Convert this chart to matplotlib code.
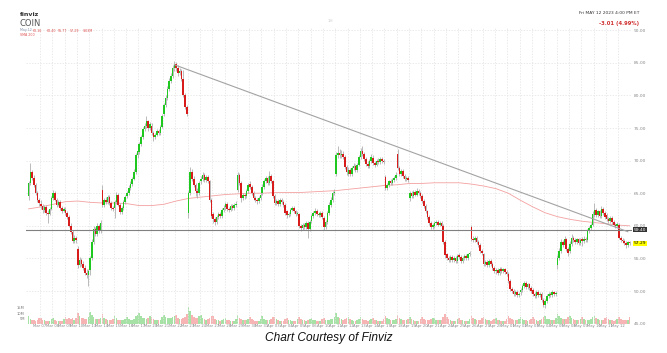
import numpy as np
import matplotlib
matplotlib.use("Agg")
import matplotlib.pyplot as plt
from matplotlib.transforms import blended_transform_factory

# COIN hourly candles, Mar 06 - May 12 2023 (7 bars per session)
dates = ["Mar 06", "Mar 07", "Mar 08", "Mar 09", "Mar 10", "Mar 13", "Mar 14", "Mar 15", "Mar 16",
         "Mar 17", "Mar 20", "Mar 21", "Mar 22", "Mar 23", "Mar 24", "Mar 27", "Mar 28", "Mar 29",
         "Mar 30", "Mar 31", "Apr 03", "Apr 04", "Apr 05", "Apr 06", "Apr 10", "Apr 11", "Apr 12",
         "Apr 13", "Apr 14", "Apr 17", "Apr 18", "Apr 19", "Apr 20", "Apr 21", "Apr 24", "Apr 25",
         "Apr 26", "Apr 27", "Apr 28", "May 01", "May 02", "May 03", "May 04", "May 05", "May 08",
         "May 09", "May 10", "May 11", "May 12"]

day_open = [64.5, 63.4, 64.3, 62.5, 56.5, 53.2, 65.5, 62.8, 64.6, 71.3, 75.3, 77.2, 84.8, 62.0,
            66.8, 61.8, 62.9, 65.5, 66.4, 65.0, 64.6, 62.2, 61.8, 60.8, 61.2, 68.0, 68.0, 70.6,
            70.4, 67.5, 71.0, 64.2, 64.6, 60.0, 55.6, 55.5, 59.8, 55.6, 53.0, 52.6, 49.8, 50.2,
            47.9, 54.0, 56.2, 57.9, 61.6, 61.6, 60.2]

closes = [
    [66.5, 68.2, 67.4, 66.2, 65.0, 64.0, 63.5],
    [63.0, 62.4, 62.9, 62.0, 61.8, 62.6, 64.2],
    [65.0, 64.0, 63.2, 63.6, 62.8, 62.3, 62.6],
    [62.0, 61.4, 60.0, 59.0, 57.6, 58.2, 57.8],
    [54.0, 54.8, 54.2, 53.6, 52.8, 52.5, 53.0],
    [55.0, 57.5, 59.5, 58.8, 60.0, 59.2, 60.5],
    [63.2, 64.0, 63.6, 64.4, 63.5, 62.8, 62.6],
    [63.6, 64.8, 63.2, 62.1, 62.8, 63.6, 64.4],
    [65.0, 65.8, 66.4, 67.2, 68.3, 70.8, 71.5],
    [72.5, 73.6, 74.8, 75.3, 76.0, 75.0, 75.6],
    [74.2, 73.6, 74.0, 74.5, 74.2, 75.2, 76.8],
    [78.5, 79.6, 81.0, 82.2, 83.0, 84.2, 84.6],
    [84.2, 83.4, 83.8, 82.5, 80.0, 78.2, 77.2],
    [65.0, 68.3, 67.2, 66.2, 65.3, 65.0, 66.5],
    [67.2, 67.8, 67.0, 67.5, 66.8, 64.0, 61.5],
    [61.0, 60.6, 61.3, 61.8, 61.5, 62.4, 62.8],
    [63.3, 62.6, 62.5, 63.0, 62.8, 63.2, 63.4],
    [67.8, 66.5, 64.2, 64.8, 64.5, 65.4, 66.2],
    [66.0, 65.0, 64.2, 64.0, 63.8, 64.3, 64.8],
    [66.0, 66.8, 67.3, 66.6, 67.6, 66.8, 64.5],
    [63.5, 63.8, 63.4, 63.9, 63.6, 63.2, 62.0],
    [61.6, 61.8, 62.5, 62.7, 62.2, 61.8, 62.0],
    [60.0, 59.6, 60.2, 59.8, 60.4, 59.5, 60.6],
    [61.5, 62.0, 62.3, 61.8, 61.6, 62.0, 61.4],
    [59.8, 60.6, 62.0, 63.2, 64.0, 65.0, 65.2],
    [70.8, 71.2, 70.8, 71.0, 70.5, 69.0, 68.2],
    [68.5, 68.0, 68.8, 69.2, 68.6, 69.4, 70.5],
    [71.5, 71.0, 70.2, 69.5, 69.2, 70.0, 70.6],
    [69.6, 69.4, 70.0, 69.8, 70.2, 70.0, 69.8],
    [65.8, 66.3, 66.8, 66.5, 67.0, 67.4, 67.8],
    [68.8, 68.0, 68.4, 67.6, 67.2, 67.4, 67.0],
    [65.0, 64.6, 65.2, 64.8, 65.4, 65.0, 64.5],
    [63.8, 63.0, 62.2, 61.4, 60.5, 59.8, 60.2],
    [60.4, 60.6, 60.2, 60.5, 60.0, 57.5, 55.5],
    [55.0, 54.8, 55.2, 54.7, 55.0, 54.6, 55.3],
    [55.2, 54.6, 55.0, 55.4, 55.0, 55.6, 55.8],
    [58.0, 57.8, 58.2, 57.5, 57.0, 56.2, 55.8],
    [54.2, 54.5, 54.0, 54.6, 54.2, 53.5, 53.0],
    [53.2, 52.8, 53.4, 53.0, 53.3, 52.9, 52.6],
    [51.5, 50.3, 50.0, 49.6, 49.8, 49.4, 49.6],
    [50.2, 50.8, 51.2, 50.6, 51.0, 50.4, 50.0],
    [49.6, 49.2, 49.8, 49.4, 49.5, 48.6, 47.8],
    [48.5, 49.2, 49.6, 49.4, 49.8, 49.5, 49.7],
    [55.0, 56.2, 57.5, 57.0, 58.0, 56.5, 55.9],
    [57.2, 58.2, 57.8, 57.5, 57.9, 57.4, 57.8],
    [57.6, 58.0, 57.8, 59.2, 59.6, 60.2, 61.8],
    [62.5, 61.6, 62.2, 61.5, 62.6, 62.0, 61.4],
    [61.0, 60.8, 61.2, 60.6, 60.2, 60.0, 60.3],
    [58.2, 57.8, 57.6, 57.4, 57.0, 57.5, 57.29],
]

highs = [
    [66.9, 69.7, 68.6, 67.8, 66.6, 65.4, 64.3], [63.9, 63.4, 63.2, 63.2, 62.4, 62.9, 64.6],
    [65.5, 65.3, 64.3, 64.0, 63.9, 63.1, 62.9], [62.9, 62.3, 61.7, 60.4, 59.3, 58.6, 58.5],
    [56.9, 55.2, 55.1, 54.6, 54.0, 53.3, 53.4], [55.3, 57.9, 59.9, 59.8, 60.4, 60.3, 60.9],
    [66.2, 64.3, 64.4, 64.8, 64.7, 63.8, 63.1], [63.9, 65.2, 65.0, 63.5, 63.0, 63.9, 64.7],
    [65.4, 66.2, 66.8, 67.5, 68.7, 71.2, 72.0], [72.9, 74.0, 75.2, 75.7, 76.9, 76.3, 75.9],
    [75.7, 74.5, 74.3, 74.8, 74.8, 75.5, 77.2], [78.9, 80.0, 81.4, 82.6, 83.4, 84.6, 85.3],
    [85.1, 84.6, 84.2, 84.1, 83.9, 80.4, 78.5], [65.4, 69.0, 68.7, 67.6, 66.6, 65.8, 66.9],
    [67.6, 68.2, 68.1, 67.8, 67.8, 67.1, 64.3], [62.1, 61.3, 61.6, 62.1, 62.1, 62.7, 63.2],
    [63.7, 63.6, 62.9, 63.3, 63.3, 63.5, 63.8], [68.3, 68.1, 66.8, 65.1, 65.1, 65.7, 66.6],
    [66.8, 66.3, 65.3, 64.6, 64.3, 64.6, 65.2], [66.4, 67.2, 67.7, 67.6, 68.4, 67.9, 67.1],
    [64.9, 64.1, 64.1, 64.2, 64.2, 63.9, 63.5], [62.5, 62.1, 62.8, 63.1, 63.0, 62.5, 62.3],
    [62.0, 60.3, 60.5, 60.5, 60.7, 60.7, 60.9], [61.8, 62.3, 62.7, 62.6, 62.1, 62.3, 62.3],
    [61.5, 60.9, 62.3, 63.6, 64.4, 65.4, 65.6], [71.3, 72.3, 71.8, 71.6, 71.5, 70.8, 69.3],
    [69.0, 68.8, 69.1, 69.6, 69.5, 69.7, 70.9], [71.9, 72.2, 71.3, 70.5, 69.9, 70.3, 71.0],
    [70.8, 69.9, 70.3, 70.4, 70.6, 70.5, 70.3], [67.8, 66.6, 67.1, 67.2, 67.3, 67.7, 68.2],
    [71.8, 69.1, 68.7, 68.7, 67.9, 67.7, 67.7], [65.4, 65.3, 65.5, 65.5, 65.8, 65.7, 65.3],
    [64.9, 64.1, 63.3, 62.5, 61.7, 60.8, 60.5], [60.7, 60.9, 60.9, 60.8, 60.8, 60.3, 57.8],
    [55.9, 55.3, 55.5, 55.5, 55.3, 55.3, 55.6], [55.8, 55.5, 55.3, 55.7, 55.7, 55.9, 56.1],
    [60.2, 58.4, 58.5, 58.5, 57.8, 57.3, 56.5], [55.9, 54.8, 54.8, 54.9, 54.9, 54.5, 53.8],
    [53.5, 53.5, 53.7, 53.7, 53.6, 53.6, 53.2], [52.9, 51.8, 50.6, 50.3, 50.1, 50.1, 49.9],
    [50.5, 51.1, 51.6, 51.5, 51.3, 51.3, 50.7], [50.5, 49.9, 50.1, 50.1, 49.8, 49.8, 48.9],
    [48.8, 49.5, 49.9, 49.9, 50.1, 50.0, 50.0], [55.5, 56.6, 57.9, 57.8, 58.4, 58.2, 56.8],
    [57.6, 58.7, 58.5, 58.1, 58.2, 58.2, 58.1], [58.3, 58.4, 58.3, 59.5, 60.0, 60.5, 62.2],
    [63.5, 62.8, 62.5, 62.5, 63.0, 62.9, 62.3], [61.9, 61.3, 61.5, 61.5, 60.9, 60.5, 60.6],
    [60.4, 58.5, 58.1, 57.9, 57.7, 57.7, 57.7],
]

lows = [
    [64.0, 66.2, 67.0, 65.9, 64.7, 63.7, 63.0], [62.6, 62.0, 62.1, 61.7, 60.5, 61.6, 62.4],
    [64.0, 63.8, 62.9, 63.0, 62.5, 62.0, 62.1], [61.7, 61.1, 59.8, 58.7, 57.3, 57.3, 57.4],
    [53.6, 53.7, 53.9, 53.2, 52.4, 52.0, 50.8], [52.4, 54.7, 57.2, 58.4, 58.5, 58.9, 58.9],
    [62.9, 62.9, 63.3, 63.3, 63.2, 62.5, 62.2], [61.2, 63.3, 63.0, 61.8, 61.8, 62.5, 63.3],
    [64.2, 64.7, 65.5, 66.1, 67.0, 68.0, 70.4], [71.0, 72.2, 73.3, 74.5, 75.0, 74.6, 74.7],
    [73.9, 73.0, 73.3, 73.7, 73.9, 74.0, 75.0], [76.9, 78.2, 79.3, 80.7, 81.9, 82.7, 83.8],
    [83.8, 83.0, 83.1, 82.2, 79.7, 77.9, 76.9], [61.2, 64.7, 66.9, 65.9, 64.6, 64.2, 64.8],
    [66.4, 66.9, 66.7, 66.7, 66.5, 63.7, 61.2], [60.5, 60.2, 60.3, 61.0, 61.2, 61.2, 62.1],
    [62.5, 62.3, 62.1, 62.2, 62.5, 62.5, 62.9], [65.2, 66.2, 63.7, 63.9, 64.1, 64.2, 65.1],
    [65.7, 64.7, 63.9, 63.7, 63.4, 63.5, 64.0], [64.7, 65.7, 66.5, 66.3, 66.3, 66.5, 64.2],
    [63.2, 63.2, 63.1, 63.1, 63.3, 62.9, 61.7], [61.2, 61.3, 61.5, 62.2, 61.9, 61.5, 61.6],
    [59.7, 59.2, 59.3, 59.5, 59.5, 58.2, 59.2], [60.5, 61.2, 61.7, 61.5, 61.3, 61.3, 61.1],
    [59.4, 59.5, 60.3, 61.7, 62.9, 63.7, 64.7], [67.7, 70.4, 70.4, 70.4, 70.2, 68.7, 67.8],
    [67.6, 67.7, 67.7, 68.5, 68.3, 68.3, 69.1], [70.2, 70.7, 69.9, 69.2, 68.9, 68.9, 69.7],
    [69.3, 69.0, 69.1, 69.5, 69.5, 69.7, 69.5], [65.5, 65.5, 66.0, 66.2, 66.2, 66.7, 67.1],
    [68.5, 67.7, 67.7, 67.3, 66.9, 66.9, 66.7], [63.8, 64.3, 64.3, 64.5, 64.5, 64.7, 64.2],
    [63.5, 62.7, 61.9, 61.1, 60.2, 59.5, 59.5], [59.6, 60.1, 59.9, 59.9, 59.7, 57.2, 55.1],
    [54.7, 54.4, 54.5, 54.4, 54.4, 54.3, 54.3], [54.9, 54.3, 54.3, 54.7, 54.7, 54.8, 55.3],
    [57.7, 57.5, 57.5, 57.2, 56.7, 55.9, 55.5], [53.9, 53.9, 53.7, 53.7, 53.9, 53.2, 52.7],
    [52.6, 52.5, 52.5, 52.7, 52.7, 52.6, 52.3], [51.2, 50.0, 49.7, 49.3, 49.3, 49.1, 49.1],
    [49.4, 49.9, 50.5, 50.3, 50.3, 50.1, 49.7], [49.3, 48.9, 48.9, 49.1, 49.1, 48.3, 47.5],
    [47.4, 48.2, 48.9, 49.1, 49.1, 49.2, 49.2], [53.3, 54.7, 55.9, 56.7, 56.7, 56.2, 55.4],
    [55.9, 56.9, 57.5, 57.2, 57.2, 57.1, 57.1], [56.9, 57.3, 57.5, 57.5, 58.9, 59.3, 59.9],
    [61.3, 61.3, 61.3, 61.2, 61.2, 61.7, 61.1], [60.7, 60.5, 60.5, 60.3, 59.9, 59.7, 59.8],
    [57.9, 57.5, 57.3, 57.1, 56.6, 56.8, 57.0],
]

# hourly volume, millions
volume = [
    [7.0, 4.5, 3.5, 3.0, 2.6, 3.2, 5.0], [5.5, 3.8, 3.0, 2.6, 2.8, 2.7, 4.4],
    [5.0, 3.5, 2.8, 2.4, 2.6, 2.5, 4.0], [6.0, 4.6, 5.0, 4.0, 5.2, 3.8, 5.6],
    [10.0, 7.5, 5.5, 5.0, 4.6, 4.2, 6.5], [11.0, 8.0, 6.0, 4.8, 4.2, 4.0, 5.8],
    [9.0, 5.6, 4.0, 3.4, 3.0, 3.2, 4.6], [7.0, 5.0, 3.8, 3.4, 3.0, 3.2, 4.5],
    [6.0, 4.0, 3.4, 3.8, 4.5, 7.0, 8.5], [10.5, 7.5, 5.5, 5.0, 4.8, 5.0, 7.0],
    [6.5, 4.5, 3.4, 3.0, 3.0, 3.8, 6.0], [8.5, 6.2, 5.5, 5.0, 5.2, 6.0, 7.0],
    [8.0, 5.6, 4.5, 4.0, 5.0, 6.4, 9.0], [16.0, 12.0, 8.0, 6.2, 5.6, 5.2, 7.5],
    [8.5, 5.6, 4.5, 3.8, 4.0, 5.0, 7.0], [7.0, 4.8, 3.8, 3.0, 2.8, 3.0, 4.6],
    [5.6, 3.8, 3.0, 2.6, 2.6, 2.7, 4.2], [8.5, 5.6, 4.5, 3.8, 3.4, 3.4, 4.8],
    [6.0, 4.2, 3.2, 2.7, 2.6, 2.8, 4.2], [7.0, 4.8, 3.8, 3.2, 3.8, 4.2, 6.2],
    [6.0, 4.2, 3.2, 2.7, 2.6, 2.8, 4.4], [5.6, 3.8, 3.0, 2.7, 2.6, 2.7, 4.0],
    [6.5, 4.6, 3.5, 3.0, 2.8, 3.0, 4.4], [5.4, 3.8, 3.0, 2.6, 2.4, 2.6, 4.2],
    [5.4, 3.8, 3.5, 3.8, 4.2, 4.6, 6.5], [10.0, 6.8, 5.0, 4.4, 3.8, 4.2, 5.8],
    [6.0, 4.2, 3.2, 2.8, 2.7, 3.0, 4.6], [6.8, 4.6, 3.8, 3.2, 2.8, 3.0, 4.4],
    [5.6, 3.8, 3.0, 2.6, 2.6, 2.7, 4.2], [7.5, 5.0, 4.2, 3.4, 3.0, 3.2, 4.6],
    [8.0, 5.4, 4.2, 3.6, 3.2, 3.2, 4.4], [6.8, 4.6, 3.6, 2.8, 2.7, 2.8, 4.2],
    [6.0, 4.4, 3.8, 3.5, 3.8, 4.2, 5.4], [5.4, 3.8, 3.2, 3.0, 3.6, 6.5, 9.0],
    [6.5, 4.4, 3.4, 2.8, 2.7, 2.8, 4.2], [5.4, 3.8, 3.0, 2.6, 2.4, 2.7, 4.0],
    [7.5, 5.2, 4.2, 3.6, 3.2, 3.6, 5.0], [6.8, 4.6, 3.6, 3.0, 2.8, 3.2, 4.6],
    [5.6, 3.8, 3.0, 2.6, 2.6, 2.7, 4.4], [7.0, 5.2, 4.2, 3.6, 3.0, 3.2, 4.6],
    [6.2, 4.4, 3.6, 3.0, 2.8, 3.0, 4.4], [6.0, 4.2, 3.4, 2.8, 3.6, 4.4, 6.0],
    [7.0, 4.6, 4.0, 3.2, 3.0, 3.6, 5.4], [9.5, 7.0, 5.4, 4.6, 4.4, 4.6, 6.0],
    [7.0, 5.0, 4.0, 3.2, 3.0, 3.2, 4.6], [6.0, 4.2, 3.4, 3.2, 3.6, 4.2, 6.2],
    [7.5, 5.2, 4.2, 3.6, 3.2, 3.6, 5.0], [6.2, 4.4, 3.6, 3.0, 2.8, 3.2, 4.6],
    [6.5, 4.6, 3.8, 3.2, 3.0, 3.6, 6.5],
]

# SMA 200 read at each session start, plus the last bar
sma200 = [62.6, 62.9, 63.3, 63.7, 63.8, 63.6, 63.5, 63.5, 63.4, 63.1, 63.1, 63.3, 63.8, 64.2,
          64.4, 64.6, 64.8, 64.9, 65.0, 65.0, 65.1, 65.1, 65.1, 65.2, 65.3, 65.4, 65.6, 65.8,
          66.0, 66.2, 66.3, 66.5, 66.5, 66.6, 66.6, 66.6, 66.4, 66.1, 65.7, 65.0, 63.9, 62.9,
          62.0, 61.4, 61.0, 60.7, 60.5, 60.3, 60.1, 60.0]

trend_bars = [83, 341]
trend_price = [84.7, 59.1]
support = 59.40
last_price = 57.29

# ---- build bars
per_day = 7
c = np.array(closes).ravel()
o = np.array([[day_open[d]] + closes[d][:-1] for d in range(len(dates))]).ravel()
h = np.array(highs).ravel()
l = np.array(lows).ravel()
v = np.array(volume).ravel()
x = np.arange(len(c))
up = c >= o
day_starts = np.arange(len(dates)) * per_day - 0.5
sma_x = list(day_starts + 0.5) + [x[-1]]

W, H = 667, 353
fig = plt.figure(figsize=(W / 100, H / 100), dpi=100)
fig.patch.set_facecolor("white")

left, right, top, bottom = 26, 632, 28, 323.6
vax = fig.add_axes([left / W, 1 - bottom / H, (right - left) / W, 20 / H])
ax = fig.add_axes([left / W, 1 - bottom / H, (right - left) / W, (bottom - top) / H])
ax.patch.set_alpha(0)
for a in (ax, vax):
    a.set_xlim(-1.47, 343.4)
    for s in a.spines.values():
        s.set_visible(False)

# volume
vax.bar(x, v, width=0.9, color=np.where(up, "#a6e2a6", "#f7b4b4"), linewidth=0)
vax.set_ylim(0, 19.2)
vax.set_xticks([])
vax.set_yticks([5, 10, 15])
vax.set_yticklabels(["5M", "10M", "15M"])
vax.tick_params(axis="y", length=0, pad=0.8, labelsize=2.6, labelcolor="#777777")

# grid
ax.set_ylim(45, 90.34)
for xd in day_starts[1:]:
    ax.axvline(xd, color="#e2e2e2", lw=0.5, ls=(0, (2, 2)), zorder=0)
for yv in range(50, 91, 5):
    ax.axhline(yv, color="#e2e2e2", lw=0.5, ls=(0, (2, 2)), zorder=0)

# candles
ax.vlines(x, l, h, color="#b0b0b0", lw=0.6, zorder=2)
ax.bar(x, c - o, bottom=o, width=0.9, color=np.where(up, "#1ec81e", "#d81c1c"),
       linewidth=0, zorder=3)

ax.plot(sma_x, sma200, color="#f4a0a0", lw=0.6, zorder=1)
ax.axhline(support, color="#808080", lw=0.8, zorder=4)
ax.plot(trend_bars, trend_price, color="#a3a3a3", lw=0.8, zorder=4)

ax.yaxis.tick_right()
ax.set_yticks(range(45, 91, 5))
ax.set_yticklabels([f"{t:.2f}" for t in range(45, 91, 5)])
ax.tick_params(axis="y", length=0, pad=1.5, labelsize=3.2, labelcolor="#888888")
ax.set_xticks(day_starts[1:])
ax.set_xticklabels(dates[1:])
ax.tick_params(axis="x", length=0, pad=0.6, labelsize=2.7, labelcolor="#888888")

tr = blended_transform_factory(ax.transAxes, ax.transData)
ax.text(1.003, support, f"{support:.2f}", transform=tr, fontsize=3.2, color="white",
        va="center", ha="left", bbox=dict(facecolor="#333333", edgecolor="none", pad=0.5), zorder=6)
ax.text(1.003, last_price, f"{last_price:.2f}", transform=tr, fontsize=3.2, color="black",
        va="center", ha="left", bbox=dict(facecolor="#ffff00", edgecolor="none", pad=0.5), zorder=6)

# header
fig.text(20 / W, 1 - 14 / H, "finviz", fontsize=4.5, fontweight="bold", color="#333333", va="center")
fig.text(19 / W, 1 - 23 / H, "COIN", fontsize=6, color="#555555", va="center")
fig.text(20 / W, 1 - 30.5 / H, "May 12", fontsize=2.3, color="#8090a8", va="center")
for xp, s in [(33, "60.16"), (47, "60.40"), (58, "56.77"), (70, "57.29"), (83, "9.03M")]:
    fig.text(xp / W, 1 - 30.5 / H, s, fontsize=2.3, color="#e05050", va="center")
fig.text(20 / W, 1 - 35.5 / H, "SMA 200", fontsize=2.3, color="#e05050", va="center")
fig.text(330 / W, 1 - 21 / H, "1H", fontsize=3, color="#cccccc", ha="center", va="center")
fig.text(639 / W, 1 - 13.5 / H, "Fri MAY 12 2023 4:00 PM ET", fontsize=3.2, color="#333333",
         ha="right", va="center")
fig.text(639 / W, 1 - 23 / H, "-3.01 (4.99%)", fontsize=3.8, color="#d03030", fontweight="bold",
         ha="right", va="center")

fig.text(329 / W, 1 - 338 / H, "Chart Courtesy of Finviz", fontsize=8.6, style="italic",
         family=["Liberation Sans", "DejaVu Sans"], color="#111111", ha="center", va="center")

fig.savefig("out.png", dpi=100)
